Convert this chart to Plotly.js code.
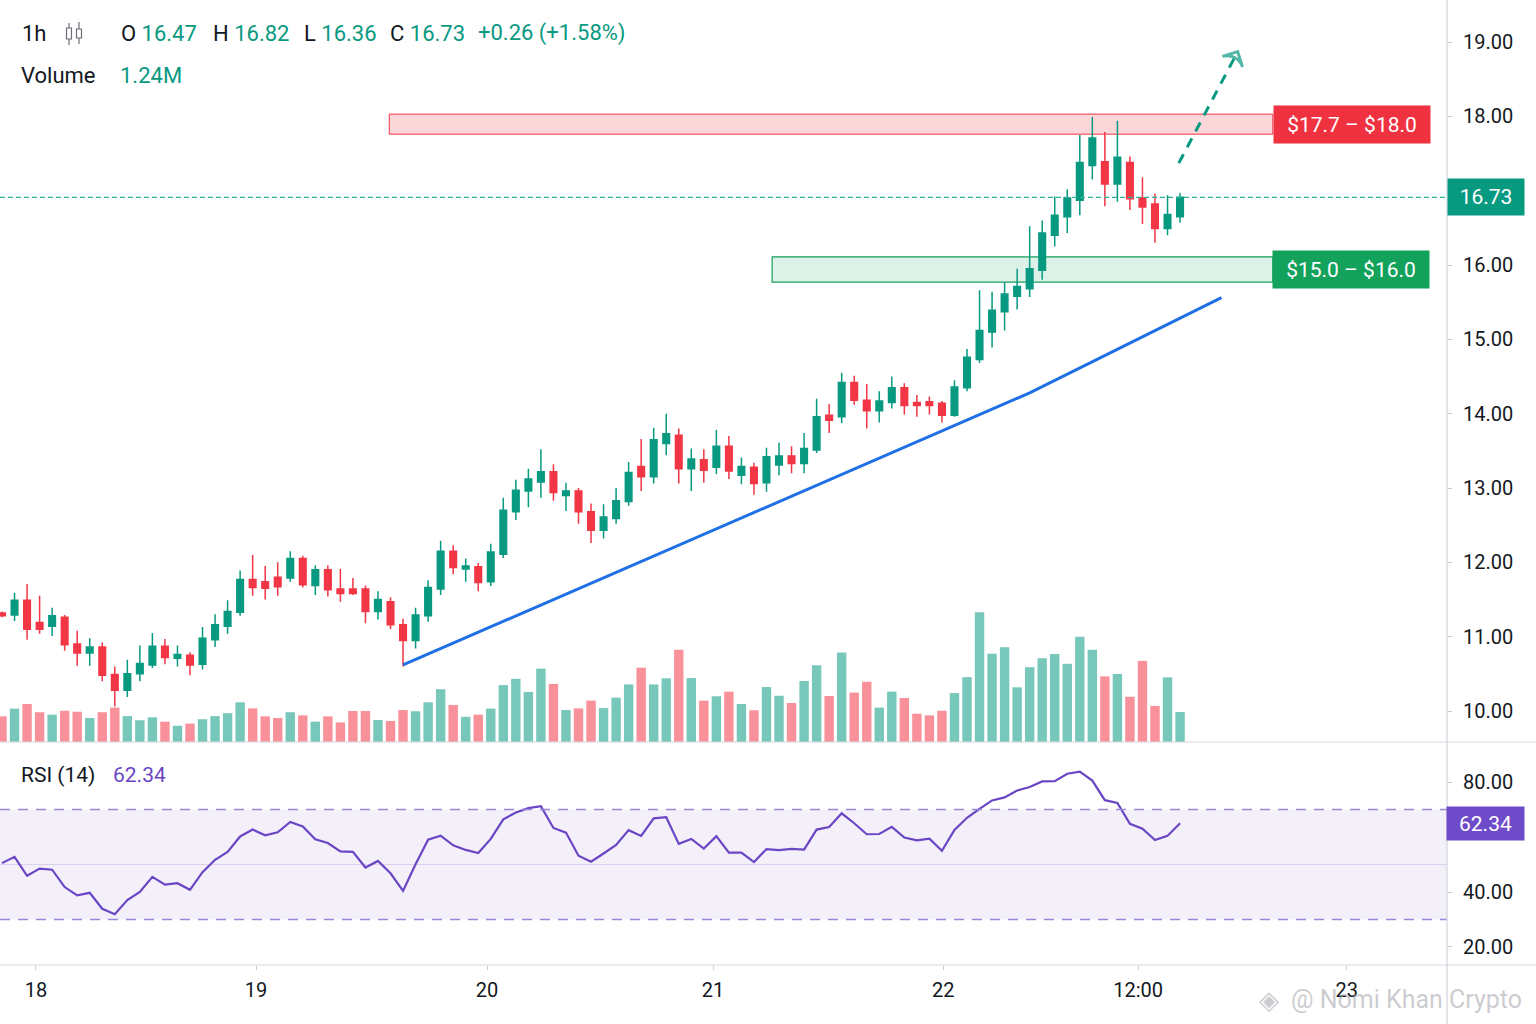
<!DOCTYPE html>
<html>
<head>
<meta charset="utf-8">
<script src="https://cdn.plot.ly/plotly-3.0.1.min.js"></script>
<style>
html,body{margin:0;padding:0;background:#ffffff;}
#chart{width:1536px;height:1024px;}
</style>
</head>
<body>
<div id="chart"></div>
<script>
// ---------------- DATA ----------------
const openP = [11.32,11.29,11.49,11.19,11.14,11.26,10.90,10.78,10.86,10.49,
10.28,10.50,10.62,10.87,10.71,10.75,10.63,10.96,11.14,11.33,
11.77,11.74,11.80,11.79,12.05,11.69,11.90,11.64,11.64,11.64,
11.34,11.47,11.16,10.95,11.28,11.64,12.15,11.91,11.94,11.74,
12.11,12.68,12.96,13.08,13.22,12.90,12.96,12.68,12.43,12.59,
12.82,13.29,13.15,13.60,13.71,13.26,13.38,13.28,13.56,13.17,
13.28,13.07,13.31,13.43,13.33,13.51,13.98,13.96,14.42,14.18,
14.04,14.15,14.35,14.15,14.16,14.14,13.98,14.35,14.73,15.10,
15.37,15.58,15.68,15.93,16.40,16.65,16.87,17.34,17.39,17.09,
17.38,16.90,16.82,16.49,16.65];
const highP = [11.34,11.59,11.71,11.55,11.39,11.29,11.08,10.98,10.92,10.60,
10.69,10.88,11.05,10.97,10.88,10.79,11.13,11.30,11.49,11.89,
12.10,11.95,12.00,12.15,12.09,11.96,11.96,11.91,11.79,11.69,
11.61,11.53,11.24,11.39,11.76,12.29,12.23,12.05,11.99,12.25,
12.87,13.11,13.26,13.52,13.32,13.07,13.00,12.79,12.78,13.00,
13.35,13.66,13.81,14.00,13.80,13.53,13.52,13.78,13.70,13.41,
13.34,13.54,13.61,13.56,13.74,14.20,14.13,14.55,14.51,14.40,
14.30,14.50,14.41,14.25,14.23,14.17,14.45,14.87,15.66,15.64,
15.77,15.95,16.52,16.60,16.92,17.02,17.75,17.99,17.79,17.94,
17.46,17.18,16.96,16.94,16.97];
const lowP = [11.26,11.21,10.96,11.04,11.01,10.81,10.61,10.61,10.40,10.06,
10.19,10.40,10.58,10.63,10.60,10.48,10.56,10.86,11.04,11.28,
11.55,11.50,11.55,11.74,11.66,11.56,11.54,11.47,11.56,11.18,
11.23,11.10,10.60,10.84,11.20,11.56,11.84,11.74,11.61,11.68,
12.06,12.57,12.74,12.87,12.83,12.69,12.52,12.26,12.32,12.52,
12.76,12.96,13.06,13.44,13.06,12.96,13.07,13.19,13.12,13.05,
12.91,12.95,13.17,13.20,13.20,13.47,13.74,13.87,14.12,13.80,
13.88,14.07,13.99,13.96,13.99,13.88,13.96,14.30,14.68,14.89,
15.12,15.40,15.57,15.80,16.25,16.43,16.67,17.15,16.79,16.85,
16.74,16.55,16.30,16.40,16.57];
const closeP = [11.28,11.49,11.10,11.10,11.28,10.89,10.78,10.86,10.48,10.28,
10.50,10.64,10.87,10.72,10.76,10.62,10.98,11.16,11.34,11.77,
11.66,11.65,11.67,12.05,11.70,11.90,11.63,11.58,11.58,11.34,
11.50,11.16,10.95,11.29,11.66,12.15,11.93,11.95,11.73,12.14,
12.70,12.97,13.12,13.22,12.94,12.96,12.68,12.43,12.61,12.83,
13.21,13.15,13.65,13.73,13.26,13.39,13.24,13.56,13.23,13.29,
13.06,13.42,13.43,13.33,13.53,13.96,13.91,14.42,14.18,14.04,
14.17,14.35,14.11,14.11,14.11,13.98,14.36,14.76,15.12,15.39,
15.61,15.71,15.95,16.43,16.67,16.90,17.38,17.71,17.09,17.45,
16.89,16.78,16.49,16.68,16.91];
const volumeM = [1.06,1.38,1.57,1.23,1.13,1.29,1.25,0.99,1.23,1.42,
1.07,0.90,1.02,0.84,0.67,0.76,0.94,1.07,1.19,1.64,
1.39,1.06,0.99,1.23,1.10,0.84,1.06,0.81,1.28,1.28,
0.91,0.87,1.32,1.27,1.64,2.18,1.53,1.04,1.13,1.38,
2.35,2.61,2.07,3.03,2.40,1.32,1.39,1.71,1.40,1.83,
2.38,3.07,2.38,2.63,3.81,2.64,1.71,1.89,2.08,1.57,
1.31,2.27,1.91,1.61,2.52,3.17,1.90,3.70,2.04,2.49,
1.42,2.08,1.82,1.17,1.10,1.29,2.02,2.68,5.36,3.65,
3.91,2.26,3.09,3.46,3.63,3.23,4.35,3.81,2.71,2.81,
1.87,3.35,1.49,2.67,1.24];
const rsi14 = [50.5,52.8,45.9,48.5,48.1,41.8,38.8,39.7,33.9,31.9,
37.1,40.0,45.5,42.7,43.2,40.8,47.2,51.7,54.6,60.2,
62.7,60.6,61.7,65.5,63.8,59.2,57.8,54.8,54.6,48.9,
51.3,46.8,40.4,50.1,59.0,60.5,57.0,55.3,54.2,59.3,
66.4,68.9,70.5,71.2,63.3,61.6,53.2,51.0,54.0,57.1,
62.5,60.4,66.8,67.2,57.5,59.3,55.8,60.3,54.3,54.3,
50.9,55.6,55.2,55.7,55.4,62.7,63.6,68.6,65.0,61.0,
61.1,63.7,59.8,58.8,59.4,55.0,62.6,67.0,70.2,73.3,
74.4,76.9,78.2,80.2,80.3,83.0,83.8,80.5,73.4,72.4,
64.8,63.0,58.9,60.4,65.0];

const dayTickPos  = [2.71, 20.27, 38.7, 56.74, 75.1, 90.66, 107.3];
const dayTickText = ['18','19','20','21','22','12:00','23'];
const priceTicks  = [10,11,12,13,14,15,16,17,18,19];
const rsiTicks    = [20,40,80];

const resistanceZone = [17.76, 18.03];
const supportZone    = [15.77, 16.11];
const resistanceStart = 30.9, supportStart = 61.45, zoneEnd = 101.4;
const resistanceLabel = '$17.7 \u2013 $18.0';
const supportLabel    = '$15.0 \u2013 $16.0';

const trendX = [32.0, 82.0, 97.3];
const trendY = [10.62, 14.28, 15.56];
const arrowX = [93.9, 98.6];
const arrowY = [17.37, 18.87];

const hdrInterval = '1h';
const hdrOpen = '16.47', hdrHigh = '16.82', hdrLow = '16.36', hdrClose = '16.73';
const hdrChange = '+0.26 (+1.58%)';
const hdrVolume = '1.24M';
const priceLabel = '16.73';
const rsiLabel = '62.34';
const watermark = '@ Nomi Khan Crypto';

// ---------------- STYLE ----------------
const GREEN = '#089981', RED = '#f23645', PURPLE = '#6a45c4';
const TXT = '#131722';
const PLOT_W = 1447, PLOT_H = 965;
const px = x => x / PLOT_W;
const py = y => 1 - y / PLOT_H;

const idx = openP.map((_, i) => i);
const volColors = openP.map((o, i) => closeP[i] >= o ? 'rgba(8,153,129,0.55)' : 'rgba(242,54,69,0.55)');
const lastClose = closeP[closeP.length - 1];
const lastRsi = rsi14[rsi14.length - 1];

const traces = [
  { type:'bar', x: idx, y: volumeM, xaxis:'x', yaxis:'y2',
    marker:{color: volColors, line:{width:0}}, hoverinfo:'skip' },
  { type:'candlestick', x: idx, open: openP, high: highP, low: lowP, close: closeP,
    xaxis:'x', yaxis:'y',
    increasing:{line:{color:GREEN, width:1.5}, fillcolor:GREEN},
    decreasing:{line:{color:RED, width:1.5}, fillcolor:RED},
    hoverinfo:'skip' },
  { type:'scatter', mode:'lines', x: trendX, y: trendY, xaxis:'x', yaxis:'y',
    line:{color:'#1f6fe5', width:3}, hoverinfo:'skip' },
  { type:'scatter', mode:'lines+markers', x: arrowX, y: arrowY, xaxis:'x', yaxis:'y',
    line:{color:GREEN, width:3, dash:'10px,8px'},
    marker:{symbol:'arrow-wide-open', size:[0,16], angleref:'previous', color:GREEN, line:{width:3, color:GREEN}},
    cliponaxis:false, hoverinfo:'skip' },
  { type:'scatter', mode:'lines', x: idx, y: rsi14, xaxis:'x', yaxis:'y3',
    line:{color:PURPLE, width:2.2}, hoverinfo:'skip' }
];

const gridLine = '#d6d9e0';
const rsiGuide = '#9b87d8';
const shapes = [
  // RSI band and guide lines
  {type:'rect', xref:'paper', yref:'y3', x0:0, x1:1, y0:30, y1:70, fillcolor:'rgba(126,87,194,0.09)', line:{width:0}, layer:'below'},
  {type:'line', xref:'paper', yref:'y3', x0:0, x1:1, y0:70, y1:70, line:{color:rsiGuide, width:1.4, dash:'10px,8px'}},
  {type:'line', xref:'paper', yref:'y3', x0:0, x1:1, y0:30, y1:30, line:{color:rsiGuide, width:1.4, dash:'10px,8px'}},
  {type:'line', xref:'paper', yref:'y3', x0:0, x1:1, y0:50, y1:50, line:{color:'rgba(126,87,194,0.2)', width:1}},
  // zones
  {type:'rect', xref:'x', yref:'y', x0:resistanceStart, x1:zoneEnd, y0:resistanceZone[0], y1:resistanceZone[1],
   fillcolor:'rgba(242,54,69,0.2)', line:{color:RED, width:1}, layer:'below'},
  {type:'rect', xref:'x', yref:'y', x0:supportStart, x1:zoneEnd, y0:supportZone[0], y1:supportZone[1],
   fillcolor:'rgba(22,160,93,0.15)', line:{color:'#16a05d', width:1.2}, layer:'below'},
  // last price line
  {type:'line', xref:'paper', yref:'y', x0:0, x1:1, y0:lastClose, y1:lastClose, line:{color:'#2bb39a', width:1.2, dash:'5px,3px'}},
  // panel separators and axis line
  {type:'line', xref:'paper', yref:'paper', x0:0, x1:1536/PLOT_W, y0:py(742), y1:py(742), line:{color:gridLine, width:1}},
  {type:'line', xref:'paper', yref:'paper', x0:0, x1:1536/PLOT_W, y0:0, y1:0, line:{color:gridLine, width:1}},
  {type:'line', xref:'paper', yref:'paper', x0:1, x1:1, y0:py(1024), y1:1, line:{color:'#c9ccd6', width:1}},
  // header candle icon
  {type:'line', xref:'paper', yref:'paper', x0:px(69), x1:px(69), y0:py(23), y1:py(45), line:{color:'#6a6d78', width:1.2}},
  {type:'rect', xref:'paper', yref:'paper', x0:px(66.5), x1:px(71.5), y0:py(28), y1:py(39), fillcolor:'#ffffff', line:{color:'#6a6d78', width:1.2}},
  {type:'line', xref:'paper', yref:'paper', x0:px(79), x1:px(79), y0:py(22), y1:py(44), line:{color:'#6a6d78', width:1.2}},
  {type:'rect', xref:'paper', yref:'paper', x0:px(76.5), x1:px(81.5), y0:py(29), y1:py(38), fillcolor:'#ffffff', line:{color:'#6a6d78', width:1.2}}
];

function txt(text, x, y, color, size, anchor) {
  return {xref:'paper', yref:'paper', x:px(x), y:py(y), text:text, showarrow:false,
          xanchor: anchor || 'left', yanchor:'middle', font:{size:size || 22, color:color || TXT}};
}
function tag(text, x, yVal, yref, bg, w, h) {
  return {xref:'paper', yref:yref, x:px(x), y:yVal, text:text, showarrow:false,
          xanchor:'center', yanchor:'middle', bgcolor:bg, borderpad:3, width:w, height:h,
          font:{size:21, color:'#ffffff'}};
}

const annotations = [
  txt(hdrInterval, 20, 33),
  txt('O <span style="color:' + GREEN + '">' + hdrOpen + '</span>', 119, 33),
  txt('H <span style="color:' + GREEN + '">' + hdrHigh + '</span>', 211, 33),
  txt('L <span style="color:' + GREEN + '">' + hdrLow + '</span>', 302, 33),
  txt('C <span style="color:' + GREEN + '">' + hdrClose + '</span>', 388, 33),
  txt(hdrChange, 476, 33, GREEN),
  txt('Volume', 19, 76),
  txt(hdrVolume, 118, 76, GREEN),
  txt('RSI (14)', 19, 775, TXT, 21),
  txt(rsiLabel, 111, 775, PURPLE, 21),
  tag(resistanceLabel, 1352, (resistanceZone[0] + resistanceZone[1]) / 2, 'y', '#f0313f', 150, 31),
  tag(supportLabel, 1351, (supportZone[0] + supportZone[1]) / 2, 'y', '#13a25c', 150, 31),
  tag(priceLabel, 1486, lastClose, 'y', GREEN, 70, 30),
  tag(rsiLabel, 1486, lastRsi, 'y3', '#6e4bc8', 71, 27),
  txt('\u25C8', 1257, 1000, 'rgba(160,160,168,0.55)', 26),
  txt(watermark, 1289, 1000, 'rgba(160,160,168,0.55)', 25)
];

const layout = {
  width:1536, height:1024,
  margin:{l:0, r:89, t:0, b:59, pad:0},
  paper_bgcolor:'#ffffff', plot_bgcolor:'#ffffff',
  showlegend:false, hovermode:false,
  font:{family:'Roboto, "Open Sans", Arial, sans-serif', color:TXT, size:20},
  boxgap:0.25, bargap:0.25,
  xaxis:{range:[-0.16, 115.3], anchor:'y3', tickmode:'array', tickvals:dayTickPos, ticktext:dayTickText,
         ticks:'outside', ticklen:4, tickcolor:'#c9ccd6', ticklabelstandoff:3,
         showgrid:false, zeroline:false, showline:false, rangeslider:{visible:false},
         tickfont:{size:20, color:TXT}, fixedrange:true},
  yaxis:{domain:[py(742), 1], range:[9.583, 19.565], side:'right', anchor:'x',
         tickmode:'array', tickvals:priceTicks, tickformat:'.2f',
         ticks:'outside', ticklen:4, tickcolor:'#c9ccd6', ticklabelstandoff:7,
         showgrid:false, zeroline:false, showline:false, tickfont:{size:20, color:TXT}, fixedrange:true},
  yaxis2:{overlaying:'y', anchor:'x', range:[0, 30.65], visible:false, fixedrange:true},
  yaxis3:{domain:[0, py(742)], range:[13.45, 94.55], side:'right', anchor:'x',
          tickmode:'array', tickvals:rsiTicks, tickformat:'.2f',
          ticks:'outside', ticklen:4, tickcolor:'#c9ccd6', ticklabelstandoff:7,
          showgrid:false, zeroline:false, showline:false, tickfont:{size:20, color:TXT}, fixedrange:true},
  shapes:shapes,
  annotations:annotations
};

Plotly.newPlot('chart', traces, layout, {staticPlot:true, displayModeBar:false});
</script>
</body>
</html>
